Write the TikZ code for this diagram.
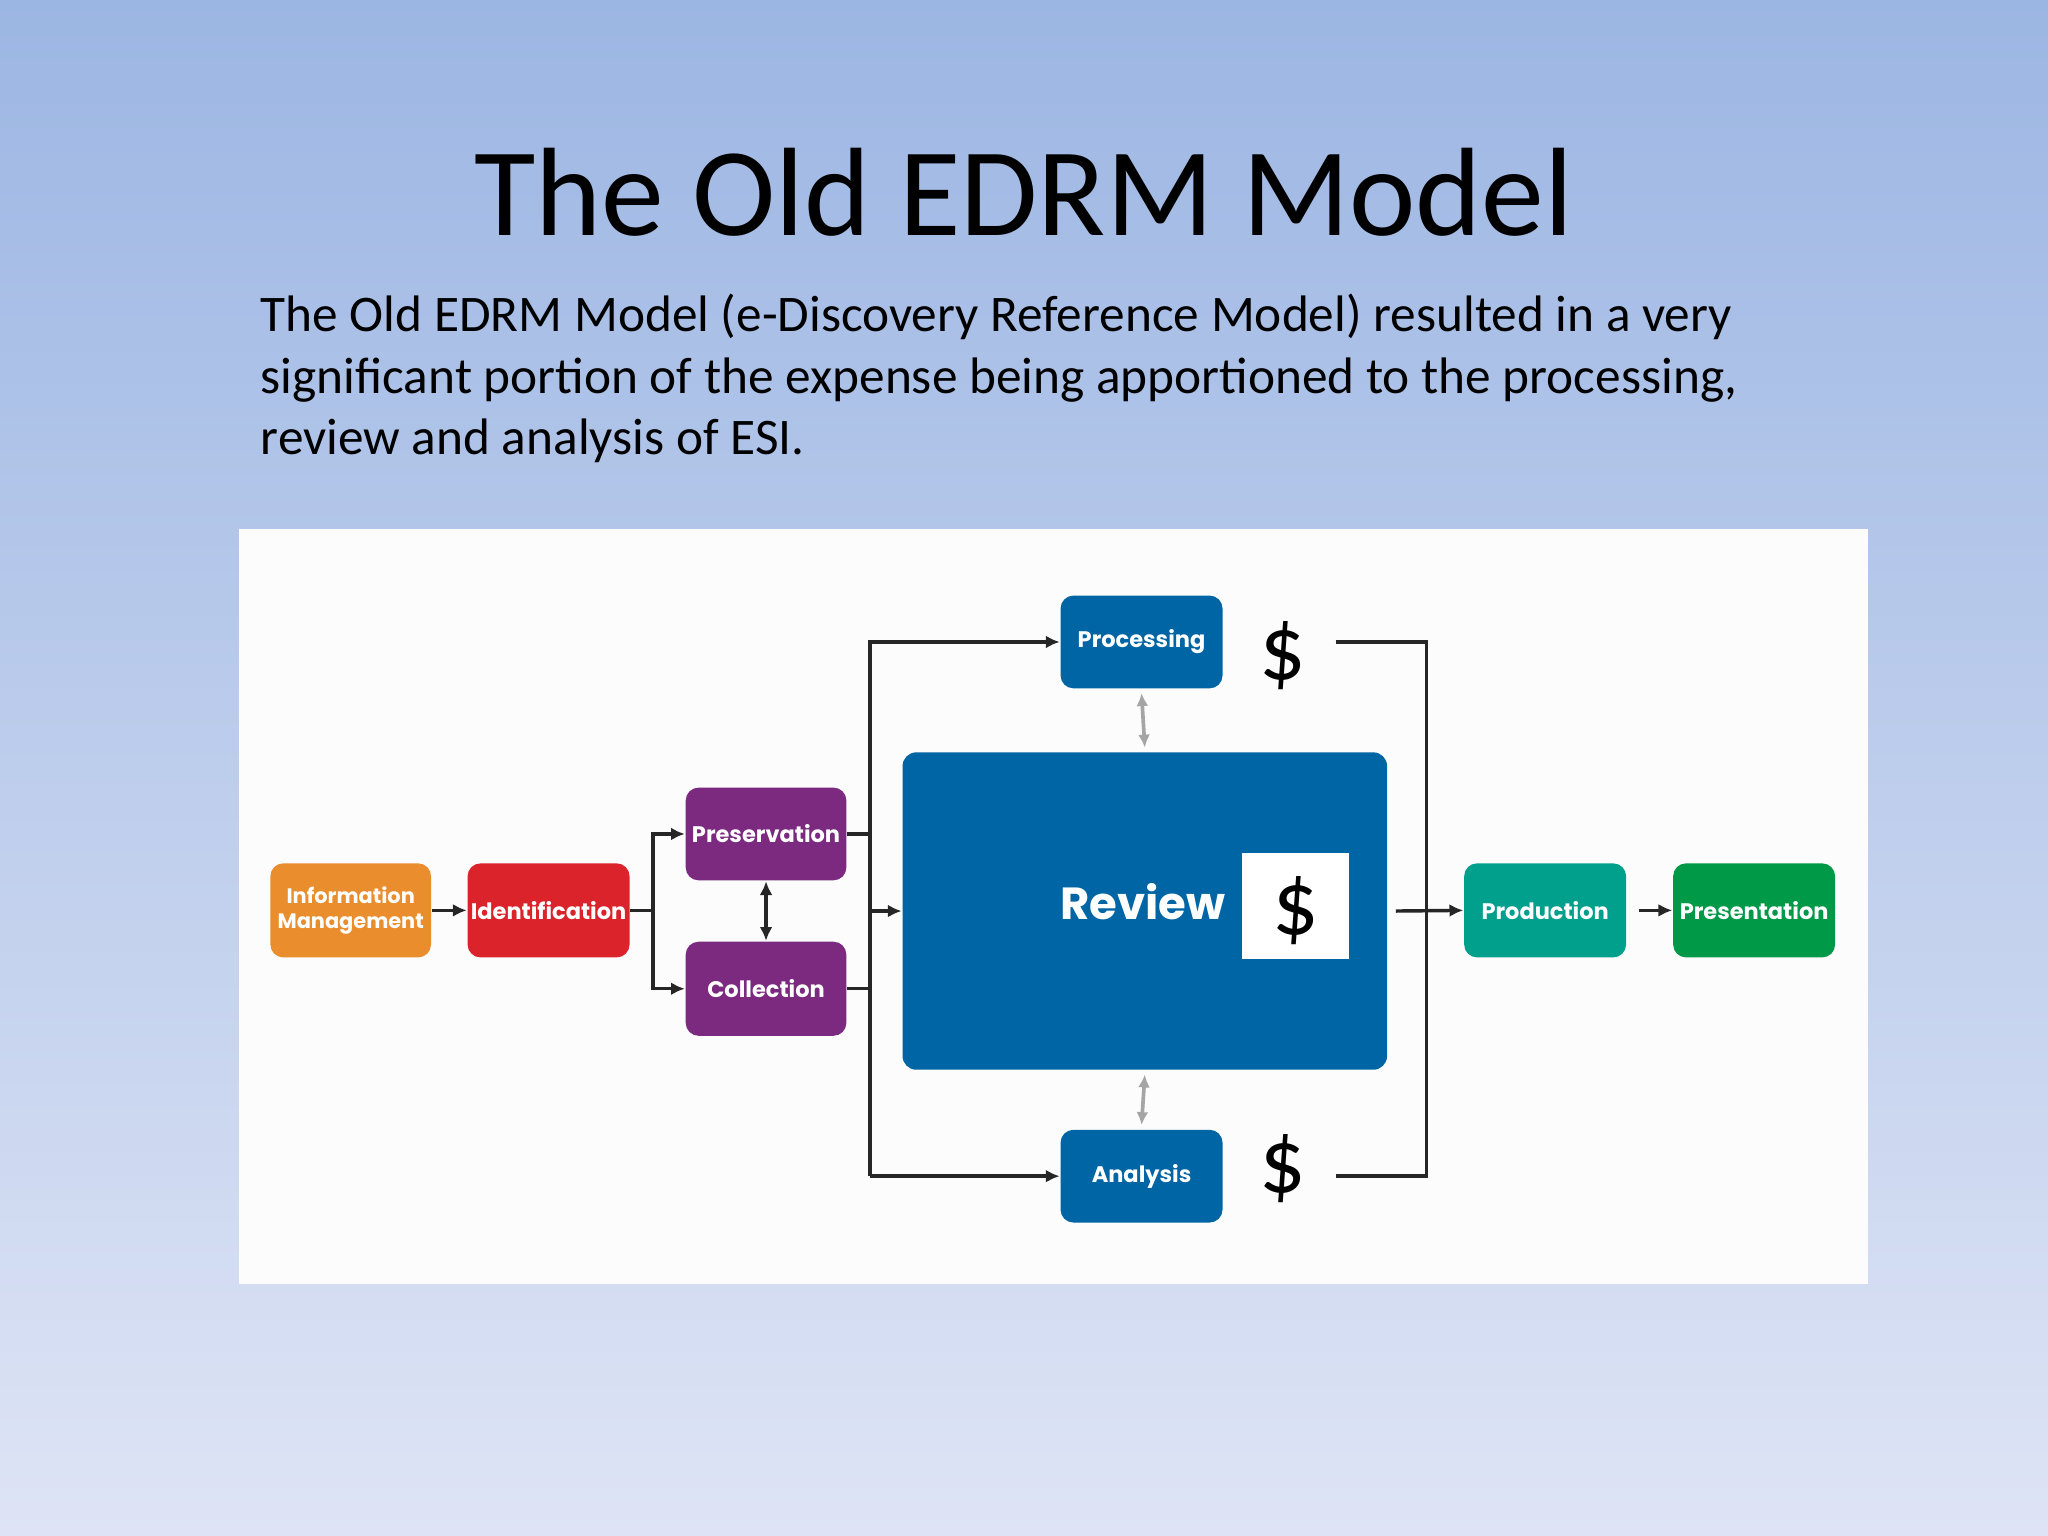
\documentclass[tikz,border=0pt]{standalone}
\usepackage{fontspec}
\setmainfont{Carlito}
\newfontfamily\boxfont{Poppins}
\usetikzlibrary{arrows.meta,calc}
\definecolor{bgtop}{RGB}{156,182,227}
\definecolor{bgbot}{RGB}{222,228,245}
\definecolor{cOrange}{RGB}{234,141,44}
\definecolor{cRed}{RGB}{218,35,42}
\definecolor{cPurple}{RGB}{123,42,128}
\definecolor{cBlue}{RGB}{0,101,164}
\definecolor{cTeal}{RGB}{0,160,140}
\definecolor{cGreen}{RGB}{0,153,72}
\definecolor{cGray}{RGB}{165,165,165}
\tikzset{
  stagebox/.style={rounded corners=2.8pt, minimum width=12.3mm, minimum height=7.2mm,
    inner sep=0pt, text=white, align=center,
    font=\boxfont\bfseries\fontsize{4.9}{5.6}\selectfont},
  conn/.style={line width=0.75pt, draw=black!85},
  tip/.style={-{Latex[length=3pt,width=2.8pt]}},
  dtip/.style={{Latex[length=3pt,width=2.8pt]}-{Latex[length=3pt,width=2.8pt]}},
  grayconn/.style={line width=0.8pt, draw=cGray,
    {Latex[length=2.8pt,width=2.6pt]}-{Latex[length=2.8pt,width=2.6pt]}},
  dollar/.style={font=\fontsize{20}{20}\selectfont, inner sep=0pt},
}
\begin{document}
\begin{tikzpicture}[x=0.1mm,y=-0.1mm]
\useasboundingbox (0,0) rectangle (1568,1176);
\shade[top color=bgtop, bottom color=bgbot] (0,0) rectangle (1568,1176);
% title and text
\node[anchor=base, font=\fontsize{27.4}{33}\selectfont] (title) at (784,180) {The Old EDRM Model};
\node[anchor=base west, font=\fontsize{11.18}{13.4}\selectfont, inner sep=0pt] (l1) at (199,254)
  {The Old EDRM Model (e-Discovery Reference Model) resulted in a very};
\node[anchor=base west, font=\fontsize{11.18}{13.4}\selectfont, inner sep=0pt] (l2) at (199,301)
  {significant portion of the expense being apportioned to the processing,};
\node[anchor=base west, font=\fontsize{11.18}{13.4}\selectfont, inner sep=0pt] (l3) at (199,348)
  {review and analysis of ESI.};
% panel
\fill[white!99!black] (183,405) rectangle (1430,983);
% stages
\node[stagebox, fill=cOrange, font=\boxfont\bfseries\fontsize{4.55}{5.4}\selectfont] (im) at (268.5,697) {Information\\Management};
\node[stagebox, fill=cRed, minimum width=12.4mm] (id) at (420,697) {Identification};
\node[stagebox, fill=cPurple, minimum height=7.1mm] (pres) at (586.5,638.5) {Preservation};
\node[stagebox, fill=cPurple] (coll) at (586.5,757) {Collection};
\node[stagebox, fill=cBlue, minimum width=12.4mm, minimum height=7.1mm] (proc) at (874,491.5) {Processing};
\node[stagebox, fill=cBlue, minimum width=12.4mm, minimum height=7.1mm] (ana) at (874,900.5) {Analysis};
\node[rounded corners=3pt, fill=cBlue, minimum width=37.1mm, minimum height=24.3mm, inner sep=0pt] (rev) at (876.5,697.5) {};
\node[text=white, font=\boxfont\bfseries\fontsize{9.8}{11}\selectfont, inner sep=0pt] (revt) at (875,690) {Review};
\node[fill=white, minimum width=8.2mm, minimum height=8.1mm, inner sep=0pt] (rbox) at (992,693.5) {};
\node[dollar] (dmid) at (992,697) {\$};
\node[stagebox, fill=cTeal, minimum width=12.4mm] (prod) at (1183,697) {Production};
\node[stagebox, fill=cGreen, minimum width=12.4mm] (pret) at (1343,697) {Presentation};
\node[dollar] (dtop) at (982,502) {\$};
\node[dollar] (dbot) at (982,895) {\$};
% bus coordinates
\coordinate (lbx) at (666,0);
\coordinate (rbx) at (1092,0);
\coordinate (ibx) at (500,0);
\coordinate (dtx) at ($(dtop.east)+(22,0)$);
\coordinate (dbx) at ($(dbot.east)+(22,0)$);
% connectors
\draw[conn,tip] (im) -- (id);
\draw[conn] (id.east) -- (ibx |- id.east);
\draw[conn,tip] (ibx |- id.east) |- (pres.west);
\draw[conn,tip] (ibx |- id.east) |- (coll.west);
\draw[conn,dtip] (pres.south) -- (coll.north);
\draw[conn] (pres.east) -- (lbx |- pres.east);
\draw[conn] (coll.east) -- (lbx |- coll.east);
\draw[conn,tip] (lbx |- ana.west) -- (lbx |- proc.west) -- (proc.west);
\draw[conn,tip] (lbx |- ana.west) -- (ana.west);
\draw[conn,tip] (lbx |- rev.west) -- (rev.west);
\draw[conn] (dtx |- proc.east) -- (rbx |- proc.east) -- (rbx |- ana.east) -- (dbx |- ana.east);
\draw[conn,tip] ($(rev.east)+(6,0)$) -- (prod.west);
\draw[conn,tip] ($(prod.east)+(9,0)$) -- (pret.west);
\draw[grayconn] ($(proc.south)+(0,3)$) -- ($(rev.north)+(0,-3)$);
\draw[grayconn] ($(rev.south)+(0,3)$) -- ($(ana.north)+(0,-3)$);
\end{tikzpicture}
\end{document}
